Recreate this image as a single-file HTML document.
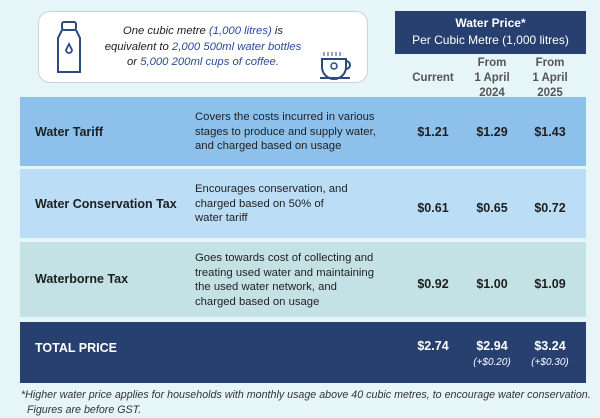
<!DOCTYPE html>
<html><head><meta charset="utf-8"><style>
*{margin:0;padding:0;box-sizing:border-box}
body{width:600px;height:415px;background:#e6f5f7;font-family:"Liberation Sans",sans-serif;position:relative;overflow:hidden;color:#1e1e1e}
.abs{position:absolute}
.row{position:absolute;left:20px;width:566px}
.lab{position:absolute;left:15px;font-weight:bold;font-size:12.5px}
.desc{position:absolute;left:175px;font-size:11.3px;line-height:14.5px;color:#222;white-space:nowrap}
.val{position:absolute;font-weight:bold;font-size:12.5px;text-align:center;width:50px}
.hd{position:absolute;font-weight:bold;font-size:11.5px;color:#555;text-align:center;width:50px;line-height:15px}
</style></head><body>
<div class="abs" style="left:38px;top:11px;width:330px;height:72px;background:#fff;border:1px solid #c8d3dc;border-radius:12px"></div>
<svg class="abs" style="left:56px;top:20px" width="26" height="56" viewBox="0 0 26 56"><rect x="6" y="2" width="14" height="8" rx="2" fill="none" stroke="#2c4a7c" stroke-width="2"/><path d="M6 10 L2 18 L2 52 L24 52 L24 18 L20 10" fill="none" stroke="#2c4a7c" stroke-width="2"/><path d="M13 24 L10 30 A3 3 0 0 0 16 30 Z" fill="none" stroke="#2c4a7c" stroke-width="1.8"/></svg>
<div class="abs" style="left:88px;top:24px;width:230px;text-align:center;font-size:11.3px;font-style:italic;line-height:15.5px;color:#222;white-space:nowrap">One cubic metre <span style="color:#2c4a9c">(1,000 litres)</span> is<br>equivalent to <span style="color:#2c4a9c">2,000 500ml water bottles</span><br>or <span style="color:#2c4a9c">5,000 200ml cups of coffee.</span></div>
<svg class="abs" style="left:318px;top:50px" width="44" height="32" viewBox="0 0 44 32"><path d="M6 2 v4 M10 2 v4 M14 2 v4 M18 2 v4 M22 2 v4" stroke="#2c4a7c" stroke-width="1"/><path d="M4 9 h24 v8 a10 10 0 0 1 -24 0 z" fill="none" stroke="#2c4a7c" stroke-width="2"/><path d="M28 11 a4 4 0 0 1 0 8" fill="none" stroke="#2c4a7c" stroke-width="2"/><path d="M2 28 h30" stroke="#2c4a7c" stroke-width="2"/><circle cx="16" cy="16" r="3" fill="none" stroke="#2c4a7c" stroke-width="1.5"/></svg>
<div class="abs" style="left:395px;top:11px;width:191px;height:43px;background:#27406f;color:#fff;text-align:center;font-size:12px;line-height:17px;padding-top:4px"><b>Water Price*</b><br>Per Cubic Metre (1,000 litres)</div>
<div class="hd" style="left:408px;top:71px">Current</div>
<div class="hd" style="left:467px;top:56px">From<br>1 April<br>2024</div>
<div class="hd" style="left:525px;top:56px">From<br>1 April<br>2025</div>

<div class="row" style="top:97px;height:69px;background:#8dc1ec">
<div class="lab" style="top:28px">Water Tariff</div>
<div class="desc" style="top:13px">Covers the costs incurred in various<br>stages to produce and supply water,<br>and charged based on usage</div>
<div class="val" style="left:388px;top:28px">$1.21</div><div class="val" style="left:447px;top:28px">$1.29</div><div class="val" style="left:505px;top:28px">$1.43</div></div>

<div class="row" style="top:169px;height:69px;background:#bcddf6">
<div class="lab" style="top:28px">Water Conservation Tax</div>
<div class="desc" style="top:13px">Encourages conservation, and<br>charged based on 50% of<br>water tariff</div>
<div class="val" style="left:388px;top:32px">$0.61</div><div class="val" style="left:447px;top:32px">$0.65</div><div class="val" style="left:505px;top:32px">$0.72</div></div>

<div class="row" style="top:242px;height:75px;background:#c4e2e6">
<div class="lab" style="top:30px">Waterborne Tax</div>
<div class="desc" style="top:9px">Goes towards cost of collecting and<br>treating used water and maintaining<br>the used water network, and<br>charged based on usage</div>
<div class="val" style="left:388px;top:35px">$0.92</div><div class="val" style="left:447px;top:35px">$1.00</div><div class="val" style="left:505px;top:35px">$1.09</div></div>

<div class="row" style="top:322px;height:61px;background:#27406f;color:#fff">
<div class="lab" style="top:19px">TOTAL PRICE</div>
<div class="val" style="left:388px;top:17px">$2.74</div><div class="val" style="left:447px;top:17px">$2.94</div><div class="val" style="left:505px;top:17px">$3.24</div>
<div class="abs" style="left:443px;top:35px;width:58px;text-align:center;font-size:10px;font-style:italic">(+$0.20)</div>
<div class="abs" style="left:501px;top:35px;width:58px;text-align:center;font-size:10px;font-style:italic">(+$0.30)</div></div>

<div class="abs" style="left:21px;top:388px;width:579px;font-size:10.7px;font-style:italic;line-height:15px;color:#333;white-space:nowrap">*Higher water price applies for households with monthly usage above 40 cubic metres, to encourage water conservation.<br>&nbsp;&nbsp;Figures are before GST.</div>
</body></html>
